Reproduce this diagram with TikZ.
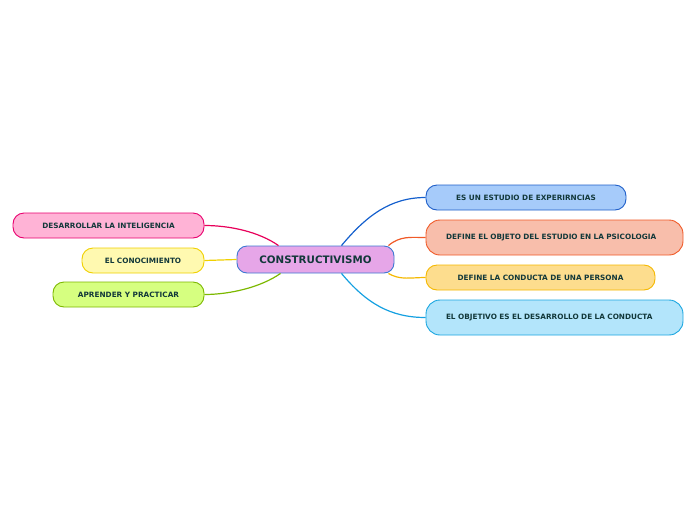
\documentclass[tikz,border=0pt]{standalone}
\usepackage{fontspec}
\setmainfont{DejaVu Sans}
\definecolor{txt}{HTML}{12383A}
\begin{document}
\begin{tikzpicture}[x=1pt,y=-1pt,
  box/.style={rounded corners=11pt,line width=0.9pt,text=txt,font=\bfseries\fontsize{7.3}{8.6}\selectfont,inner sep=0pt,minimum height=25pt},
  link/.style={line width=1.2pt}]
\useasboundingbox (0,0) rectangle (696,520);
\node[box,draw={rgb,255:red,60;green,120;blue,210},fill={rgb,255:red,230;green,166;blue,232},minimum width=157pt,minimum height=27pt,font=\bfseries\fontsize{10.3}{12}\selectfont,rounded corners=10pt] (c) at (315.5,259.5) {CONSTRUCTIVISMO};
\node[box,draw={rgb,255:red,31;green,95;blue,201},fill={rgb,255:red,166;green,203;blue,250},minimum width=200pt] (r1) at (526,197.5) {ES UN ESTUDIO DE EXPERIRNCIAS};
\node[box,draw={rgb,255:red,240;green,90;blue,40},fill={rgb,255:red,248;green,190;blue,171},minimum width=257pt,minimum height=35pt,text width=217pt,align=left,rounded corners=14pt] (r2) at (554.5,237.5) {DEFINE EL OBJETO DEL ESTUDIO EN LA PSICOLOGIA};
\node[box,draw={rgb,255:red,245;green,184;blue,0},fill={rgb,255:red,253;green,221;blue,142},minimum width=229pt] (r3) at (540.5,277.5) {DEFINE LA CONDUCTA DE UNA PERSONA};
\node[box,draw={rgb,255:red,26;green,166;blue,224},fill={rgb,255:red,179;green,229;blue,251},minimum width=257pt,minimum height=35pt,text width=217pt,align=left,rounded corners=14pt] (r4) at (554.5,317.5) {EL OBJETIVO ES EL DESARROLLO DE LA CONDUCTA};
\node[box,draw={rgb,255:red,232;green,0;blue,110},fill={rgb,255:red,255;green,179;blue,214},minimum width=191pt] (l1) at (108.5,225.5) {DESARROLLAR LA INTELIGENCIA};
\node[box,draw={rgb,255:red,240;green,208;blue,0},fill={rgb,255:red,255;green,249;blue,176},minimum width=122pt] (l2) at (143,260.5) {EL CONOCIMIENTO};
\node[box,draw={rgb,255:red,124;green,184;blue,0},fill={rgb,255:red,214;green,255;blue,128},minimum width=151pt] (l3) at (128.5,294.5) {APRENDER Y PRACTICAR};
\draw[link,draw={rgb,255:red,20;green,95;blue,205}] ([xshift=26pt]c.north) .. controls +(25,-30) and +(-35,0) .. (r1.west);
\draw[link,draw={rgb,255:red,240;green,90;blue,40}] ([xshift=-6pt]c.north east) .. controls +(12,-10) and +(-15,0) .. (r2.west);
\draw[link,draw={rgb,255:red,245;green,184;blue,0}] ([xshift=-6pt]c.south east) .. controls +(12,7) and +(-15,0) .. (r3.west);
\draw[link,draw={rgb,255:red,20;green,160;blue,225}] ([xshift=26pt]c.south) .. controls +(25,30) and +(-35,0) .. (r4.west);
\draw[link,draw={rgb,255:red,232;green,0;blue,90}] ([xshift=-37pt]c.north) .. controls +(-20,-14) and +(25,0) .. (l1.east);
\draw[link,draw={rgb,255:red,240;green,208;blue,0}] (c.west) -- (l2.east);
\draw[link,draw={rgb,255:red,124;green,184;blue,0}] ([xshift=-35pt]c.south) .. controls +(-20,14) and +(25,0) .. (l3.east);
\end{tikzpicture}
\end{document}
